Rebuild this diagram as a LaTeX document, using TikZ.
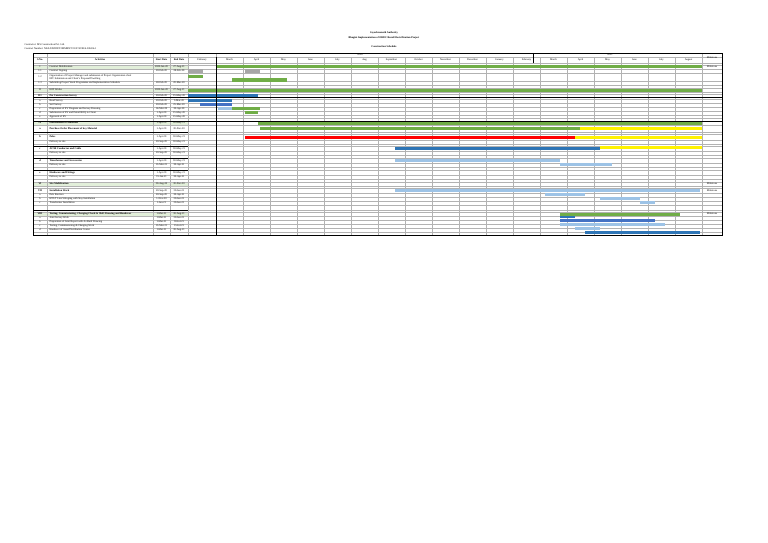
\documentclass[tikz,border=0pt]{standalone}
\usepackage{fontspec}
\setmainfont{Liberation Serif}
\definecolor{gbar}{RGB}{112,173,71}
\definecolor{dblue}{RGB}{46,117,182}
\definecolor{mblue}{RGB}{68,114,196}
\definecolor{lblue}{RGB}{157,195,230}
\definecolor{gry}{RGB}{166,166,166}
\definecolor{lgreen}{RGB}{226,239,218}
\begin{document}
\begin{tikzpicture}[x=1pt,y=-1pt,
  tx/.style={font=\fontsize{2.6}{3}\selectfont,inner sep=0.3pt},
  txb/.style={font=\fontsize{2.6}{3}\selectfont\bfseries,inner sep=0.3pt},
  grid/.style={draw=gray!60,line width=0.2pt},
  thk/.style={draw=black,line width=0.8pt}]
\useasboundingbox (0,0) rectangle (768,543);
% titles
\node[txb] (t1) at (384,33) {Jayashreenath Authority};
\node[txb] (t2) at (384,37.5) {Bhagini Implementation of ORDC Rural Electrification Project};
\node[txb] (t3) at (384,47) {Construction Schedule};
\node[tx,anchor=west] (c1) at (24,45) {Contractor: MS Construction Pvt. Ltd.};
\node[tx,anchor=west] (c2) at (24,49) {Contract Number: NEA/ED/IDP/FORMBNT/21/074/OR/4-036/04-1};
% section row backgrounds
\foreach \y in {65,88,121,182,212}{\fill[lgreen] (33,\y) rectangle (188,\y+4);}
% grid
\foreach \y in {53,57,63,65,69,73,81,85,88,92,94,97,99,103,107,111,115,118,121,125,132,134,140,144,146,151,155,158,163,167,170,175,179,182,186,188,193,197,201,205,210,212,216,220,224,228,232,235}{\draw[grid] (33,\y) -- (722,\y);}
\foreach \x in {33,47,153,170,188,216}{\draw[grid] (\x,53) -- (\x,235);}
\foreach \i in {0,...,18}{\draw[grid] (216+27*\i,57) -- (216+27*\i,235);}
\draw[grid] (722,53) -- (722,235);
\draw[grid] (702,53) -- (702,235);
% bars
\fill[gbar] (216,65.5) rectangle (702,68.5);
\fill[gry] (188,69.5) rectangle (203,72.5);
\fill[gry] (245,69.5) rectangle (260,73);
\fill[gbar] (188,74.5) rectangle (203,78);
\fill[gbar] (232,78) rectangle (287,81.5);
\fill[gbar] (188,88.5) rectangle (702,91.5);
\fill[dblue] (188,94) rectangle (258,97);
\fill[dblue] (188,99) rectangle (232,102);
\fill[mblue] (200,103) rectangle (232,106);
\fill[lblue] (218,107) rectangle (232,110);
\fill[gbar] (232,107) rectangle (260,110);
\fill[gbar] (245,111) rectangle (258,114);
\fill[gbar] (258,121.5) rectangle (702,124.5);
\fill[gbar] (260,126.5) rectangle (580,129.5);
\fill[yellow] (580,126.5) rectangle (702,129.5);
\fill[red] (245,135.5) rectangle (575,138.5);
\fill[yellow] (575,135.5) rectangle (702,138.5);
\fill[yellow] (600,146) rectangle (702,149);
\fill[dblue] (395,147) rectangle (600,150);
\fill[lblue] (395,159) rectangle (560,162);
\fill[lblue] (560,163) rectangle (612,166);
\fill[lblue] (395,189) rectangle (700,192);
\fill[lblue] (545,193) rectangle (585,196);
\fill[lblue] (600,197) rectangle (640,200);
\fill[lblue] (640,201) rectangle (655,204);
\fill[gbar] (560,212.5) rectangle (680,215.5);
\fill[dblue] (560,216) rectangle (575,218);
\fill[mblue] (560,218.5) rectangle (655,221.5);
\fill[lblue] (560,222.5) rectangle (665,225.5);
\fill[lblue] (575,226.5) rectangle (600,229.5);
\fill[dblue] (585,230.5) rectangle (700,233.5);
\draw[thk] (33,97) -- (722,97);
\draw[thk] (33,121) -- (722,121);
\draw[thk] (33,132) -- (188,132);
\draw[thk] (33,146) -- (188,146);
\draw[thk] (33,158) -- (188,158);
\draw[thk] (33,170) -- (188,170);
\draw[thk] (33,210) -- (188,210);
\draw[thk] (33,235) -- (722,235);
\draw[thk] (216,57) -- (216,235);
\draw[thk] (533,53) -- (533,63);
\draw[line width=0.6pt] (33,53) rectangle (722,235);
% header
\node[txb] (h1) at (40,60) {S.No.};
\node[txb] (h2) at (100,60) {Activities};
\node[txb] (h3) at (161.5,60) {Start Date};
\node[txb] (h4) at (179,60) {End Date};
\node[tx] (y1) at (360,55) {2020};
\node[tx] (y2) at (610,55) {2021};
\node[tx] (ms) at (712,58) {Milestone};
\foreach \m [count=\i from 0] in {March,April,May,June,July,Aug,September,October,November,December,January,February,March,April,May,June,July,August}{
  \node[tx] at (229.5+27*\i,60) {\m};}
\node[tx] (feb) at (202,60) {February};
% rows
\foreach \y/\n/\a/\s/\e in {
 67/I/{Contract Mobilization}/2020-Jan-20/27-Aug-21,
 71/1.1/{Contract Signing}/20-Feb-20/28-Feb-20,
 83/1.3/{Submitting Project Work Programme and Implementation Schedule}/28-Feb-20/20-Mar-20,
 90/II/{EOT Works}/2020-Jan-20/27-Aug-21,
 101/a/{Road Survey}/20-Feb-20/5-Mar-20,
 105/b/{Soil Survey}/20-Feb-20/25-Mar-20,
 109/c/{Preparation of EV Diagram and Survey Drawing}/16-Mar-20/30-Apr-20,
 113/d/{Submission of EV and Detail BOQ to Client}/1-Apr-20/15-May-20,
 117/e/{Approval of EV}/1-Apr-20/15-May-20,
 142/{}/{Delivery to site}/20-Sep-20/30-May-21,
 153/{}/{Delivery to site}/20-Sep-20/30-May-21,
 165/{}/{Delivery to site}/15-Mar-21/30-Apr-21,
 177/{}/{Delivery to site}/15-Jan-21/30-Apr-21,
 195/a/{Pole Erection}/20-Sep-20/30-Apr-21,
 199/b/{HT/LT Line Stringing with Stay Installation}/1-Nov-20/30-Jun-21,
 203/c/{Transformer Installation}/1-Jan-21/30-Jun-21,
 218/a/{Joint Survey Work}/1-Mar-21/30-Jun-21,
 222/b/{Preparation of Joint Report with As Built Drawing}/1-Mar-21/30-Jul-21,
 226/c/{Testing, Commissioning \& Charging Work}/15-Mar-21/15-Jul-21,
 230/d/{Handover of Asset/Distribution Center}/1-Mar-21/30-Aug-21}{
  \node[tx] at (40,\y) {\n};
  \node[tx,anchor=west] at (49,\y) {\a};
  \node[tx] at (161.5,\y) {\s};
  \node[tx] at (179,\y) {\e};}
\node[tx] (r12) at (40,77) {1.2};
\node[tx,anchor=west,align=left] (a12) at (49,77) {Organization of Project Manager and submission of Project Organization chart\\EPC Submission and Client's Proposal/Dwelling};
\node[txb] (r3) at (40,95.5) {III};
\node[txb,anchor=west] (a3) at (49,95.5) {Pre Construction Survey};
\node[tx] at (161.5,95.5) {20-Feb-20};\node[tx] at (179,95.5) {15-May-20};
\node[txb] at (40,123) {IV};
\node[txb,anchor=west] at (49,123) {Procurement of Materials};
\node[tx] at (161.5,123) {1-Apr-20};\node[tx] at (179,123) {30-May-21};
\node[txb] at (40,129) {a};
\node[txb,anchor=west] at (49,129) {Purchase Order Placement of key Material};
\node[tx] at (161.5,129) {1-Apr-20};\node[tx] at (179,129) {30-Dec-20};
\foreach \y/\n/\a in {137/b/{Poles}, 149/c/{ACSR Conductor and Cable}, 161/d/{Transformer and Accessories}, 173/e/{Hardware and Fittings}}{
  \node[txb] at (40,\y) {\n};\node[txb,anchor=west] at (49,\y) {\a};
  \node[tx] at (161.5,\y) {1-Apr-20};\node[tx] at (179,\y) {30-May-21};}
\node[txb] at (40,184) {VI};
\node[txb,anchor=west] at (49,184) {Site Mobilization};
\node[tx] at (161.5,184) {30-Aug-20};\node[tx] at (179,184) {30-Dec-20};
\node[txb] at (40,191) {VII};
\node[txb,anchor=west] at (49,191) {Installation Work};
\node[tx] at (161.5,191) {20-Sep-20};\node[tx] at (179,191) {30-Jun-21};
\node[txb] at (40,214) {VIII};
\node[txb,anchor=west] at (49,214) {Testing, Commissioning, Charging Check \& Shift Drawing and Handover};
\node[tx] at (161.5,214) {1-Mar-21};\node[tx] at (179,214) {30-Aug-21};
\foreach \y in {184,191,214}{\node[tx] at (712,\y) {Milestone};}
\node[tx] at (712,67) {Milestone};
\end{tikzpicture}
\end{document}
